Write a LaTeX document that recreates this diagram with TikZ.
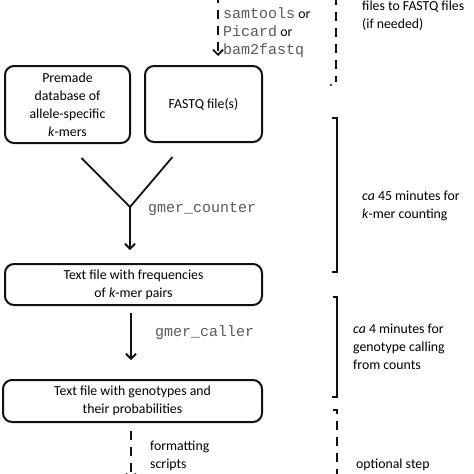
\documentclass[tikz,border=0pt]{standalone}
\usepackage{fontspec}
\setmainfont{Carlito}
\setmonofont{Liberation Mono}
\usepackage{xcolor}
\usetikzlibrary{positioning, arrows.meta, calc}
\definecolor{codegray}{HTML}{5A5A5A}
\definecolor{inkblack}{HTML}{111111}
\newcommand{\prog}[1]{{\color{codegray}\fontsize{15}{18}\selectfont\texttt{#1}}}

\begin{document}
\begin{tikzpicture}[x=1pt, y=-1pt, font=\fontsize{13.8}{18}\selectfont,
  filebox/.style={draw=inkblack, line width=2pt, rounded corners=9pt, align=center, inner sep=2pt},
  flow/.style={line width=1.8pt, draw=inkblack, -{Straight Barb[length=5pt, width=10pt, line width=1.8pt]}},
  optflow/.style={flow, dash pattern=on 9pt off 7pt},
  timebar/.style={line width=2pt, draw=inkblack},
  note/.style={anchor=west, align=left, inner sep=0pt}]
  \useasboundingbox (0,0) rectangle (474,474);

  % boxes
  \node[filebox, minimum width=125pt, minimum height=77pt] (kmerdb) at (67.5,104.5) {Premade\\database of\\allele-specific\\\textit{k}-mers};
  \node[filebox, minimum width=117pt, minimum height=76pt] (fastq) at (203.5,104) {FASTQ file(s)};
  \node[filebox, minimum width=257pt, minimum height=41pt] (freqs) at (133.5,284.5) {Text file with frequencies\\of \textit{k}-mer pairs};
  \node[filebox, minimum width=259pt, minimum height=42pt] (genos) at (132.5,401) {Text file with genotypes and\\their probabilities};

  % connectors
  \coordinate (bamin) at (218,-6);
  \coordinate (bamtip) at (218,56);
  \coordinate (merge) at (130,207);
  \draw[optflow] (bamin) -- (bamtip);
  \draw[line width=1.8pt, draw=inkblack] ($(kmerdb.south)+(14,14)$) -- (merge) -- ($(fastq.south)+(-31,14)$);
  \draw[flow] (merge) -- ($(freqs.north)+(-3.5,-13)$);
  \draw[flow] ($(freqs.south)+(-2.5,7)$) -- ($(genos.north)+(-1.5,-19)$);
  \coordinate (fmtout) at (131,480);
  \draw[optflow] ($(genos.south)+(-1.5,8)$) -- (fmtout);

  % labels on connectors
  \node[note] (convlbl) at (223,33) {\prog{samtools} or\\\prog{Picard} or\\\prog{bam2fastq}};
  \node[note] (countlbl) at (148,209) {\prog{gmer\_counter}};
  \node[note] (calllbl) at (155,333) {\prog{gmer\_caller}};
  \node[note] (fmtlbl) at (150,456) {formatting\\scripts};

  % time bars
  \draw[timebar, dash pattern=on 9pt off 7pt] (336,-4) -- (336,82);
  \fill[inkblack] (331,85) circle (1.2pt);
  \draw[timebar] (332,118) -- (337,118) -- (337,272) -- (332,272);
  \draw[timebar] (333,297) -- (337,297) -- (337,397) -- (332,397);
  \draw[timebar] (333,410) -- (337,410) -- (337,414);
  \draw[timebar, dash pattern=on 9pt off 7pt] (337,421) -- (337,480);

  % time notes
  \node[note] (convtime) at (362,16) {files to FASTQ files\\(if needed)};
  \node[note] (counttime) at (362,205.5) {\textit{ca} 45 minutes for\\\textit{k}-mer counting};
  \node[note] (calltime) at (353,347) {\textit{ca} 4 minutes for\\genotype calling\\from counts};
  \node[note] (opttime) at (356,465) {optional step};
\end{tikzpicture}
\end{document}
